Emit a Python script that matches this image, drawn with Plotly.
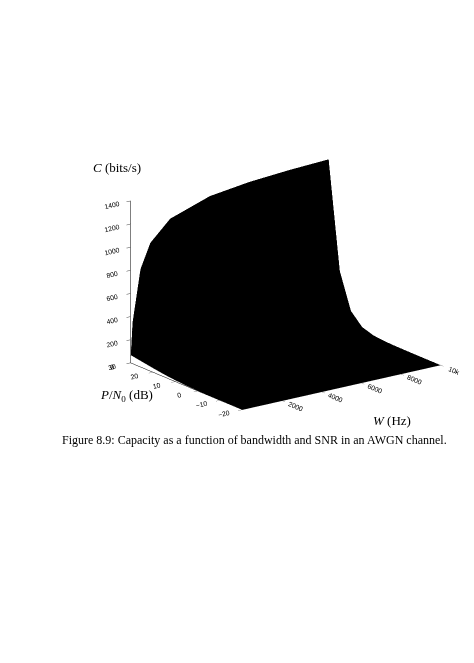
import plotly.graph_objects as go

# bandwidth W (Hz) and SNR P/N0 (dB) grid
w_hz = [10, 100, 500, 1000, 2000, 4000, 6000, 8000, 10000]
snr_db = [-20, -15, -10, -5, 0, 5, 10, 15, 20, 25, 30]

# capacity C (bits/s), rows = snr_db, cols = w_hz
cap = [
    [0.014, 0.014, 0.014, 0.014, 0.014, 0.014, 0.014, 0.014, 0.014],
    [0.046, 0.046, 0.046, 0.046, 0.046, 0.046, 0.046, 0.046, 0.046],
    [0.143, 0.144, 0.144, 0.144, 0.144, 0.144, 0.144, 0.144, 0.144],
    [0.45, 0.456, 0.456, 0.456, 0.456, 0.456, 0.456, 0.456, 0.456],
    [1.375, 1.44, 1.44, 1.44, 1.44, 1.44, 1.44, 1.44, 1.44],
    [3.96, 4.5, 4.55, 4.56, 4.56, 4.56, 4.56, 4.56, 4.56],
    [10.0, 13.75, 14.3, 14.4, 14.4, 14.4, 14.4, 14.4, 14.4],
    [20.6, 39.6, 44.2, 44.9, 45.3, 45.5, 45.5, 45.6, 45.6],
    [34.6, 100.0, 131.5, 137.5, 140.8, 142.5, 143.1, 143.4, 143.6],
    [50.3, 205.7, 353.4, 396.0, 423.0, 439.0, 444.6, 447.0, 449.0],
    [66.6, 346.0, 792.0, 1000.0, 1170.0, 1288.0, 1334.0, 1359.0, 1375.0],
]

fig = go.Figure(go.Surface(
    x=w_hz, y=snr_db, z=cap,
    colorscale=[[0, "black"], [1, "black"]],
    showscale=False,
    lighting=dict(ambient=1, diffuse=0, specular=0),
))

axis_style = dict(showgrid=False, showbackground=False, zeroline=False,
                  showline=True, linecolor="black", ticks="outside",
                  tickfont=dict(family="Liberation Sans", size=9, color="black"))


def label(text, x, y, size=13):
    return dict(text=text, x=x, y=y, xref="paper", yref="paper", showarrow=False,
                xanchor="center", yanchor="middle", font=dict(size=size))


fig.update_layout(
    width=474, height=663,
    paper_bgcolor="white",
    margin=dict(l=0, r=0, t=0, b=0),
    font=dict(family="Liberation Serif", color="black"),
    scene=dict(
        domain=dict(x=[0.17, 1.0], y=[0.30, 0.87]),
        xaxis=dict(axis_style, range=[0, 10000], title=dict(text=""),
                   tickvals=[2000, 4000, 6000, 8000, 10000]),
        yaxis=dict(axis_style, range=[-20, 30], title=dict(text=""),
                   tickvals=[-20, -10, 0, 10, 20, 30]),
        zaxis=dict(axis_style, range=[0, 1400], title=dict(text=""),
                   tickvals=[0, 200, 400, 600, 800, 1000, 1200, 1400]),
        camera=dict(eye=dict(x=-1.1, y=-1.5, z=0.6),
                    projection=dict(type="orthographic")),
        aspectmode="manual", aspectratio=dict(x=1.3, y=1.0, z=0.9),
    ),
    annotations=[
        label("<i>C</i> (bits/s)", 0.23, 0.759),
        label("<i>W</i> (Hz)", 0.81, 0.378),
        label("<i>P</i>/<i>N</i><sub>0</sub> (dB)", 0.25, 0.415),
        label("Figure 8.9: Capacity as a function of bandwidth and SNR in an AWGN channel.",
              0.52, 0.348, size=12),
    ],
)

fig.write_html("out.html")
